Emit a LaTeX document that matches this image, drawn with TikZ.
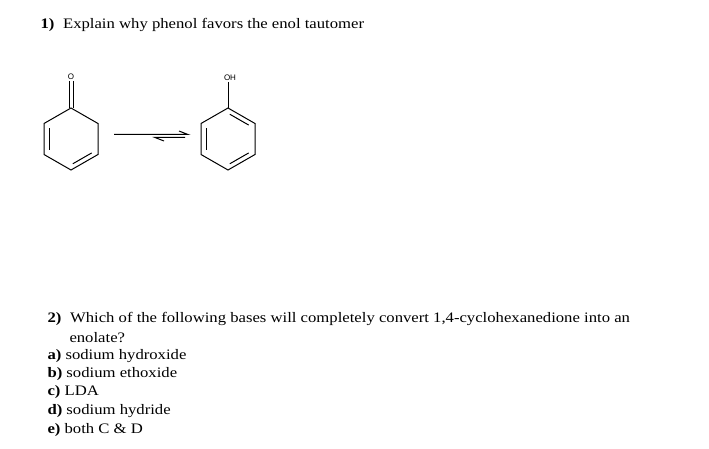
\documentclass[tikz,border=0pt]{standalone}
\usepackage{fontspec}
\usetikzlibrary{calc}
\setmainfont{Liberation Serif}[FakeStretch=1.15]
\newfontfamily\lab{Liberation Sans}
\begin{document}
\begin{tikzpicture}[x=1pt,y=-1pt,line width=1pt,
  txt/.style={anchor=west,inner sep=0pt,font=\fontsize{14.5}{16}\selectfont},
  atom/.style={inner sep=0.5pt,font=\lab\fontsize{8}{9}\selectfont}]
\useasboundingbox (0,0) rectangle (709,449);
% left ring
\coordinate (L1) at (71,108); \coordinate (L2) at (98,123.5); \coordinate (L3) at (98,154.5);
\coordinate (L4) at (71,170); \coordinate (L5) at (44,154.5); \coordinate (L6) at (44,123.5);
\draw (L1)--(L2)--(L3)--(L4)--(L5)--(L6)--cycle;
\draw ($(L5)!0.15!(L6)+(5,0)$) -- ($(L6)!0.15!(L5)+(5,0)$);
\draw ($(L3)!0.15!(L4)+(-2.25,-3.9)$) -- ($(L4)!0.15!(L3)+(-2.25,-3.9)$);
\node[atom] (O) at (71,77) {O};
\draw ([xshift=-2pt]O.south) -- ([xshift=-2pt]L1); \draw ([xshift=2pt]O.south) -- ([xshift=2pt]L1);
% right ring
\coordinate (R1) at (228,108); \coordinate (R2) at (255,123.5); \coordinate (R3) at (255,154.5);
\coordinate (R4) at (228,170); \coordinate (R5) at (201,154.5); \coordinate (R6) at (201,123.5);
\draw (R1)--(R2)--(R3)--(R4)--(R5)--(R6)--cycle;
\draw ($(R1)!0.15!(R2)+(-2.25,3.9)$) -- ($(R2)!0.15!(R1)+(-2.25,3.9)$);
\draw ($(R3)!0.15!(R4)+(-2.25,-3.9)$) -- ($(R4)!0.15!(R3)+(-2.25,-3.9)$);
\draw ($(R5)!0.15!(R6)+(5,0)$) -- ($(R6)!0.15!(R5)+(5,0)$);
\node[atom] (OH) at (230,78) {OH};
\draw (OH.south -| R1) -- (R1);
% equilibrium arrows
\coordinate (a1) at (114,134.5); \coordinate (a2) at (188,134.5);
\coordinate (b1) at (155,137.5); \coordinate (b2) at (185,137.5);
\draw (a1) -- (a2) -- ++(-9,-3.5);
\draw (b2) -- (b1) -- ++(9,3.5);
% text
\node[txt] (q1) at (40,25) {\textbf{1)}\hspace{0.6em}Explain why phenol favors the enol tautomer};
\node[txt] (q2) at (47,319) {\textbf{2)}\hspace{0.6em}Which of the following bases will completely convert 1,4-cyclohexanedione into an};
\node[txt] (q2b) at (69,338) {enolate?};
\node[txt] (a) at (47,356) {\textbf{a)} sodium hydroxide};
\node[txt] (b) at (47,374) {\textbf{b)} sodium ethoxide};
\node[txt] (c) at (47,392) {\textbf{c)} LDA};
\node[txt] (d) at (47,411) {\textbf{d)} sodium hydride};
\node[txt] (e) at (47,430) {\textbf{e)} both C \& D};
\end{tikzpicture}
\end{document}
